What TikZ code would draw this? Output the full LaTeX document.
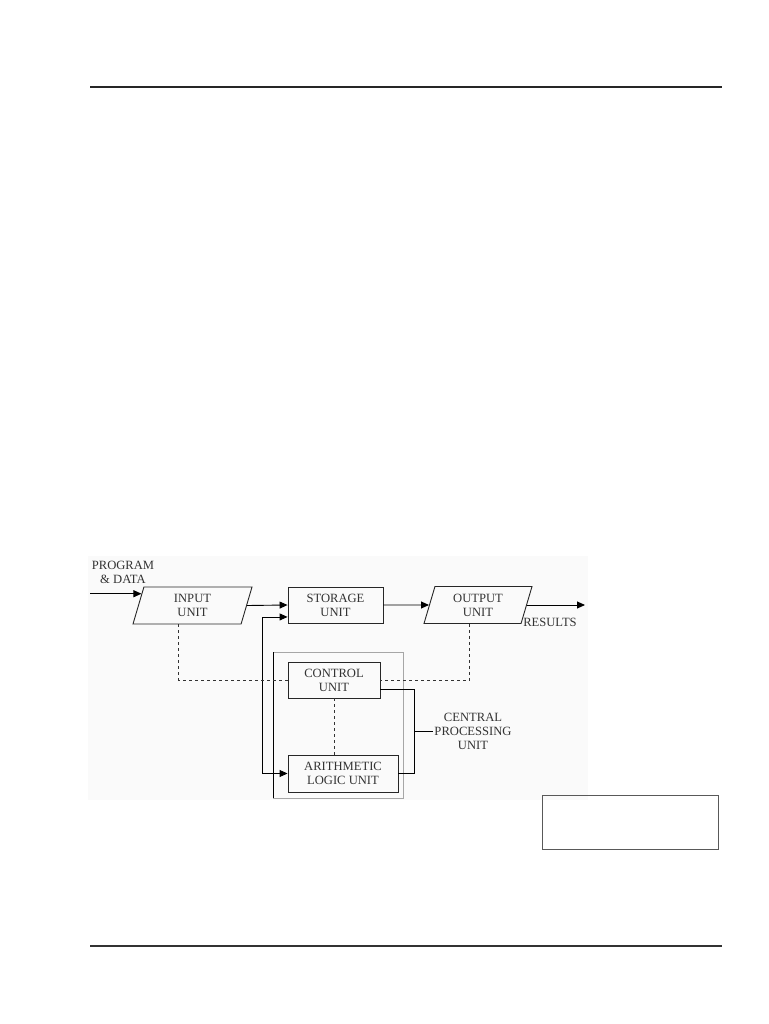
\documentclass[tikz,border=0pt]{standalone}
\usepackage{fontspec}
\setmainfont{Liberation Serif}
\usetikzlibrary{shapes.geometric,arrows.meta}

\begin{document}
\begin{tikzpicture}[x=1pt,y=-1pt,
    txt/.style={font=\fontsize{12.6}{14}\selectfont, text=black!80, align=center},
    unitbox/.style={txt, draw=black!85, line width=0.9pt, rectangle, inner sep=0pt},
    iobox/.style={txt, draw=black!85, line width=0.9pt, trapezium, trapezium left angle=64,
        trapezium right angle=116, trapezium stretches body, inner sep=0pt, minimum height=37pt},
    arr/.style={line width=0.9pt, -{Triangle[length=8pt,width=7pt]}},
    dashline/.style={line width=0.8pt, dashed, black!80}]
    \useasboundingbox (0,0) rectangle (768,1024);
    \draw[line width=1.5pt, black!85] (90,87) -- (722,87);
    \draw[line width=1.5pt, black!80] (90,946) -- (722,946);
    \fill[gray!4] (88,556) rectangle (588,800);

    \node[iobox, minimum width=119pt] (input) at (192.5,605.5) {INPUT\\UNIT};
    \node[unitbox, minimum width=95pt, minimum height=36pt] (storage) at (335.5,605) {STORAGE\\UNIT};
    \node[iobox, minimum width=108pt] (output) at (478,605) {OUTPUT\\UNIT};
    \node[unitbox, minimum width=92pt, minimum height=36pt] (ctrl) at (334,680) {CONTROL\\UNIT};
    \node[unitbox, minimum width=110pt, minimum height=37pt] (alu) at (343,773.5) {ARITHMETIC\\LOGIC UNIT};
    \node[txt] (prog) at (123,572) {PROGRAM\\\& DATA};
    \node[txt] (res) at (550,622) {RESULTS};
    \node[txt, inner sep=1pt] (cpu) at (473,731) {CENTRAL\\PROCESSING\\UNIT};

    \coordinate (pin) at (90,0);
    \coordinate (rout) at (585,0);
    \coordinate (bus) at (262,0);
    \coordinate (brk) at (414,0);

    \draw[gray!70, line width=0.8pt] (273,652) rectangle (403,798);
    \draw[line width=0.9pt] (273,652) -- (273,798);

    \draw[arr] (input.167 -| pin) -- (input.167);
    \draw[arr] (input.east) -- (storage.west);
    \draw[arr] (storage.east) -- (output.west);
    \draw[arr] (output.east) -- (output.east -| rout);
    \draw[line width=0.9pt, {Triangle[length=8pt,width=7pt]}-{Triangle[length=8pt,width=7pt]}]
        (storage.194) -- (storage.194 -| bus) -- (alu.west -| bus) -- (alu.west);
    \draw[dashline] (input.-126) |- (ctrl.west);
    \draw[dashline] (output.-114) |- (ctrl.east);
    \draw[dashline] (ctrl.south) -- (ctrl.south |- alu.north);
    \draw[line width=0.9pt] (ctrl.-12) -- (ctrl.-12 -| brk) -- (alu.east -| brk) -- (alu.east);
    \draw[line width=0.9pt] (cpu.west -| brk) -- (cpu.west);

    \draw[gray!70!black, line width=1pt] (542,795) rectangle (718,849);
\end{tikzpicture}
\end{document}
